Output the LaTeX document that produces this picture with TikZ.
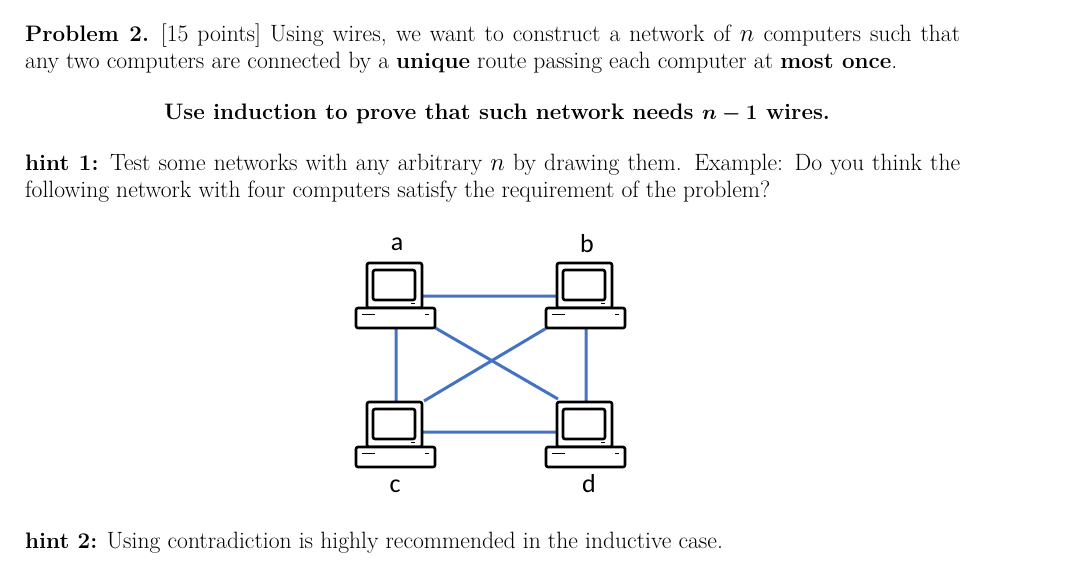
\documentclass[tikz,border=0pt]{standalone}
\usepackage{amsmath}
\usepackage{fontspec}
\newfontfamily\calfont{Carlito}
\definecolor{wire}{HTML}{4472C4}
\newcommand{\bx}[1]{{\fontsize{22.4}{27}\selectfont\bfseries #1}}
\begin{document}
\begin{tikzpicture}[x=1pt,y=-1pt,
  txt/.style={anchor=base west,inner sep=0pt,font=\fontsize{23.6}{27}\selectfont},
  par/.style={txt,text width=935pt,align=justify},
  lab/.style={inner sep=0pt,font=\calfont\fontsize{26}{30}\selectfont},
  wire/.style={draw=wire,line width=3pt},
  pc/.style={line width=2.6pt,rounded corners=2pt},
  pics/computer/.style={code={
    \draw[pc,fill=white] (0,0) rectangle (55,45);
    \draw[pc] (6,7) rectangle (48,37);
    \draw[line width=1.8pt] (44,40.5)--(48,40.5);
    \draw[pc,fill=white] (-11,45) rectangle (68,65);
    \draw[line width=1.8pt] (-5,51.5)--(8,51.5) (58,51.5)--(62,51.5);
  }}]
\useasboundingbox (0,0) rectangle (1065,566);
\node[par] (l1) at (25,41) {\bx{Problem 2.}\enspace[15 points] Using wires, we want to construct a network of $n$ computers such that\linebreak any two computers are connected by a \bx{unique} route passing each computer at \bx{most once}.};
\node[txt,anchor=base] (l3) at (497,119) {\bx{Use induction to prove that such network needs $\boldsymbol{n-1}$ wires.}};
\node[par] (l4) at (25,170) {\bx{hint 1:} Test some networks with any arbitrary $n$ by drawing them. Example: Do you think the\linebreak following network with four computers satisfy the requirement of the problem?};
\node[txt] (l6) at (25,548) {\bx{hint 2:} Using contradiction is highly recommended in the inductive case.};
\node[lab] (la) at (397,244) {a};
\node[lab] (lb) at (587,244) {b};
\node[lab] (lc) at (395,486) {c};
\node[lab] (ld) at (589,484) {d};
% wire endpoints
\coordinate (aR) at (423,296); \coordinate (bL) at (558,296);
\coordinate (cR) at (423,432); \coordinate (dL) at (558,432);
\coordinate (aB) at (396,328); \coordinate (cT) at (396,402);
\coordinate (bB) at (586,328); \coordinate (dT) at (586,402);
\coordinate (aBR) at (432,326); \coordinate (dTL) at (558,399);
\coordinate (bBL) at (550,326); \coordinate (cTR) at (424,401);
\draw[wire] (aR)--(bL) (cR)--(dL) (aB)--(cT) (bB)--(dT) (aBR)--(dTL) (bBL)--(cTR);
\pic (a) at (367,263) {computer};
\pic (b) at (557,263) {computer};
\pic (c) at (367,402) {computer};
\pic (d) at (557,402) {computer};
\end{tikzpicture}
\end{document}
